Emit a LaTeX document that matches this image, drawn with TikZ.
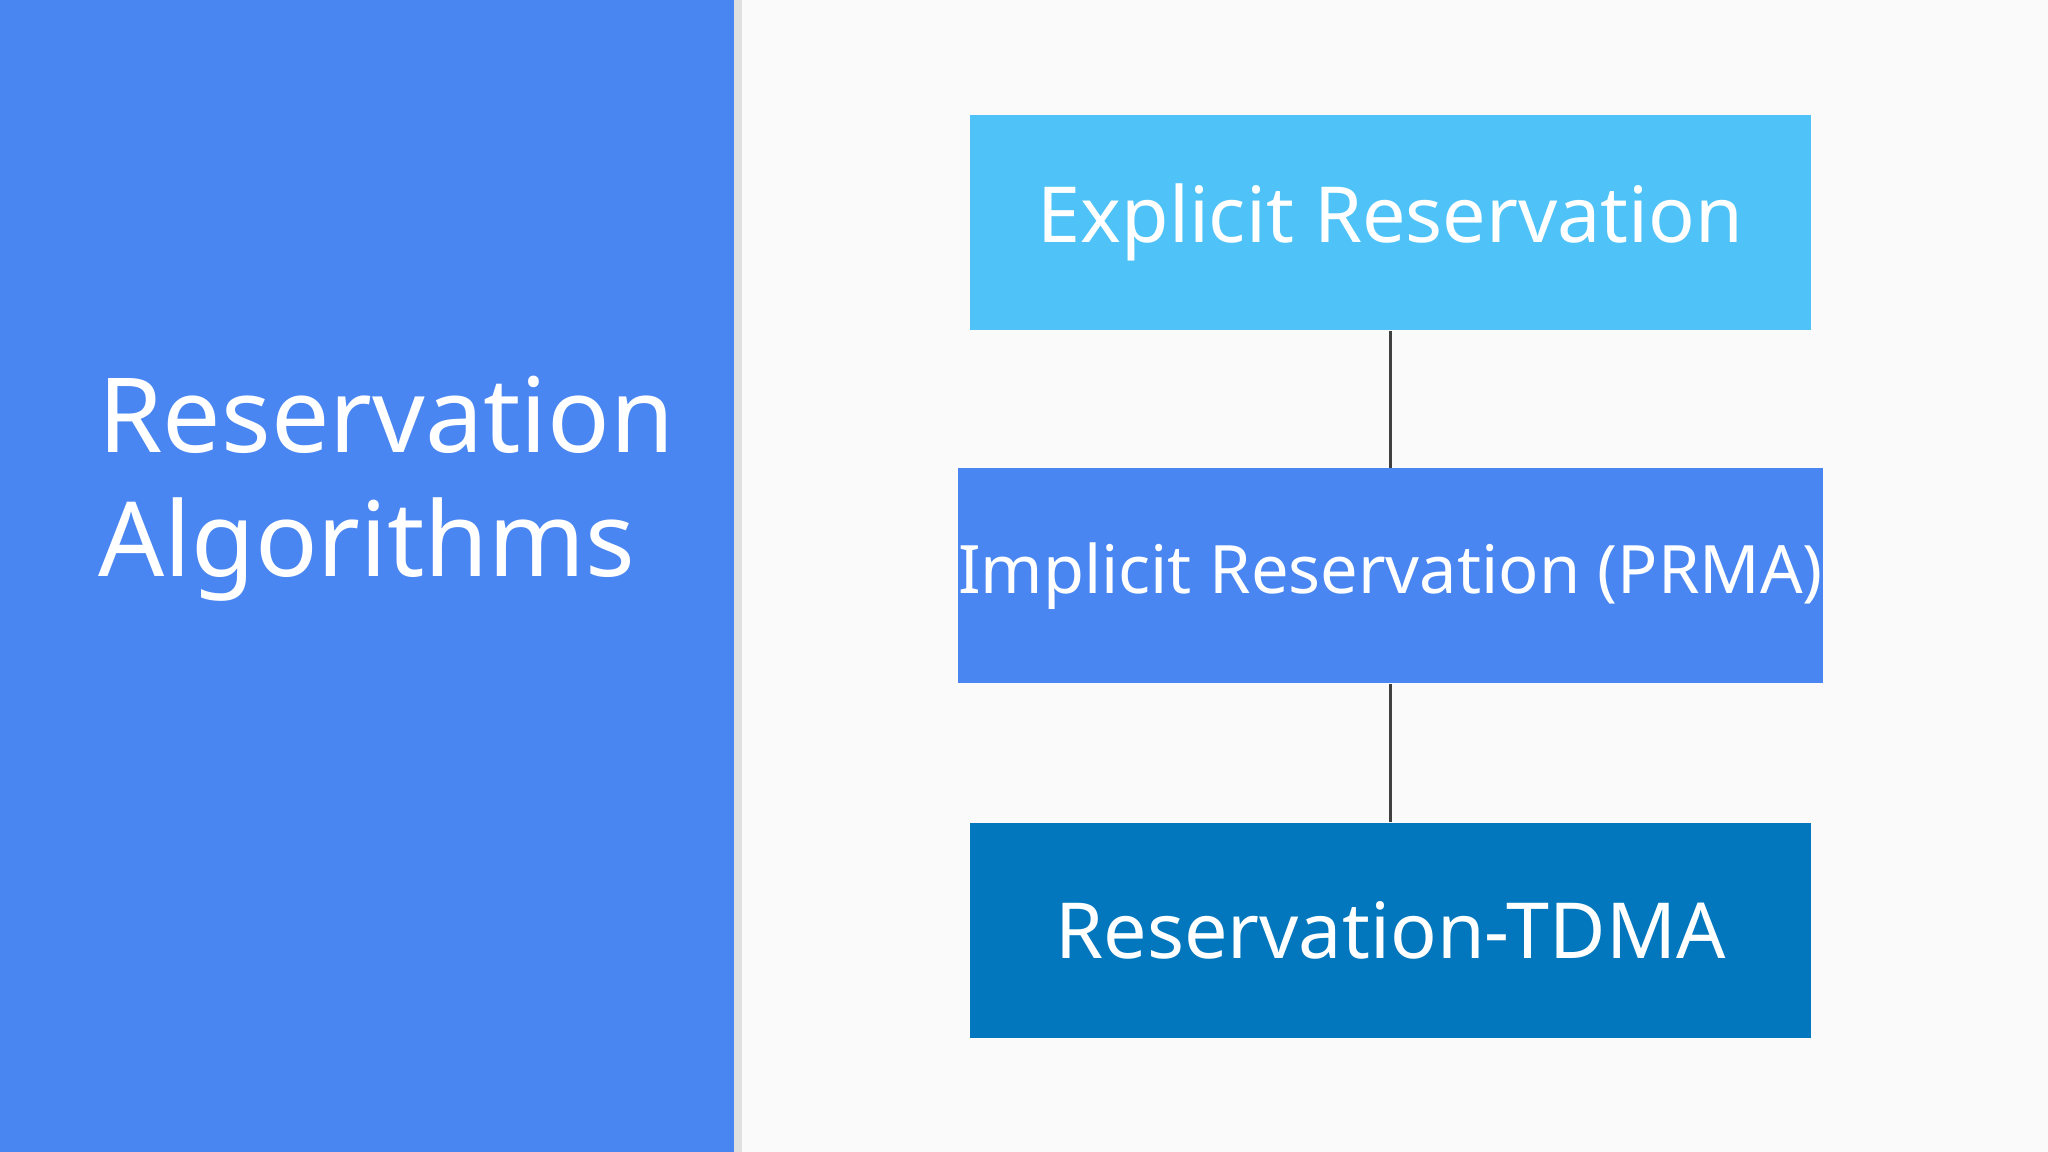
\documentclass[tikz,border=0pt]{standalone}
\usepackage{fontspec}
\setmainfont{Noto Sans}
\usepackage{tikz}
\usetikzlibrary{positioning}

\definecolor{panelblue}{HTML}{4A86F2}
\definecolor{lightblue}{HTML}{4FC3F7}
\definecolor{darkblue}{HTML}{0277BD}
\definecolor{paper}{HTML}{FAFAFA}

\begin{document}
\begin{tikzpicture}

% Set the page and the left panel
\tikzstyle{box} = [rectangle, minimum width=8.41cm, minimum height=2.15cm, inner sep=0pt, text=white]
\tikzstyle{link} = [draw=black!75, line width=0.6pt]

\useasboundingbox (0,0) rectangle (20.48,11.52);
\fill[paper] (0,0) rectangle (20.48,11.52);
\fill[black!12] (7.34,0) rectangle (7.42,11.52);
\fill[panelblue] (0,0) rectangle (7.34,11.52);

%Title of the slide
\node[anchor=base west, text=white, font=\fontsize{29.5}{36}\selectfont] (title1) at (0.86,6.99) {Reservation};
\node[anchor=base west, text=white, font=\fontsize{29.5}{36}\selectfont] (title2) at (0.86,5.75) {Algorithms};

% The three boxes, one below the other
\node[box, fill=lightblue, font=\fontsize{22}{26}\selectfont] (explicit) at (13.905,9.295) {Explicit Reservation};
\node[box, fill=panelblue, font=\fontsize{19}{23}\selectfont, below=1.37cm of explicit] (implicit) {Implicit Reservation (PRMA)};
\node[box, fill=darkblue, font=\fontsize{22}{26}\selectfont, below=1.38cm of implicit] (rtdma) {Reservation-TDMA};

\draw[link] (explicit) -- (implicit);
\draw[link] (implicit) -- (rtdma);
\end{tikzpicture}
\end{document}
